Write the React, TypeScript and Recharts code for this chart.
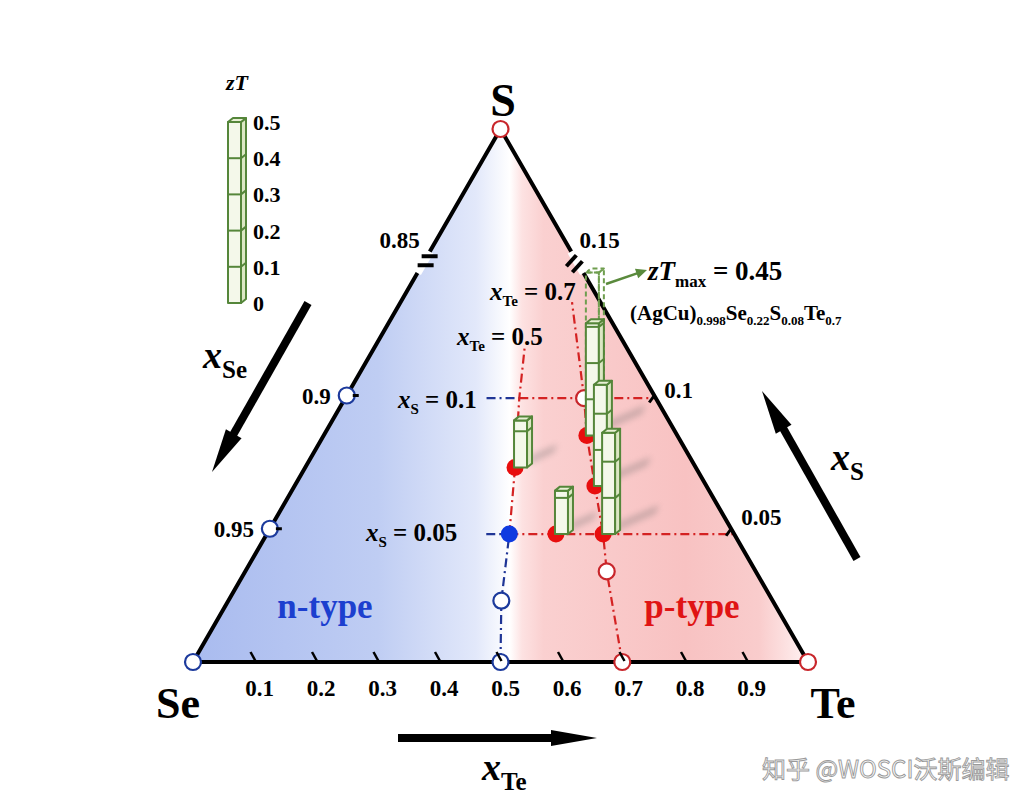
import React from 'react';
import { ScatterChart, Scatter, XAxis, YAxis, ReferenceArea } from 'recharts';

type Comp = [number, number]; // [xTe, xS]

// the S apex stands for xS = 0.2 (axis is broken above 0.15)
const XS_TOP = 0.2;

const SE_CORNER: Comp = [0, 0];
const TE_CORNER: Comp = [1, 0];
const S_CORNER: Comp = [0, XS_TOP];

const TE_TICKS = [0.1, 0.2, 0.3, 0.4, 0.5, 0.6, 0.7, 0.8, 0.9];
const EDGE_TICKS = [0.15, 0.1, 0.05]; // xS where the side labels sit
const SE_LABELS = ['0.85', '0.9', '0.95']; // xSe on the left edge
const S_LABELS = ['0.15', '0.1', '0.05']; // xS on the right edge
const ZT_LEGEND = [0.5, 0.4, 0.3, 0.2, 0.1, 0];

// open / filled composition points
const N_OPEN: Comp[] = [[0, 0], [0, 0.1], [0, 0.05], [0.5, 0], [0.49, 0.023]];
const N_FILLED: Comp[] = [[0.494, 0.048]];
const P_OPEN: Comp[] = [[1, 0], [0, XS_TOP], [0.698, 0], [0.684, 0.034], [0.693, 0.099]];
const P_FILLED: Comp[] = [[0.498, 0.073], [0.589, 0.048], [0.681, 0.085], [0.681, 0.066], [0.685, 0.048]];

// zT measured on the filled p-type points (same order)
const ZT_VALUES = [0.13, 0.12, 0.31, 0.28, 0.28];
const ZT_MAX_COMP: Comp = [0.681, 0.085];
const ZT_MAX = 0.45;

// guide lines (dash-dot)
const XS05_N: Comp[] = [[0.447, 0.048], [0.494, 0.048]];
const XS05_P: Comp[] = [[0.494, 0.048], [0.952, 0.048]];
const XS10_N: Comp[] = [[0.41, 0.099], [0.505, 0.099]];
const XS10_P: Comp[] = [[0.505, 0.099], [0.901, 0.099]];
const XTE05_N: Comp[] = [[0.5, 0], [0.49, 0.023], [0.494, 0.048]];
const XTE05_P: Comp[] = [[0.494, 0.048], [0.498, 0.073], [0.505, 0.099], [0.527, 0.119]];
const XTE07_P: Comp[] = [[0.698, 0], [0.684, 0.034], [0.685, 0.048], [0.681, 0.066], [0.681, 0.085], [0.693, 0.099], [0.742, 0.135]];

const W = 1005;
const H = 794;
const MARGIN = { left: 185, right: 205, top: 121, bottom: 140 };
const PLOT_W = W - MARGIN.left - MARGIN.right;
const PLOT_H = H - MARGIN.top - MARGIN.bottom;
const ZT_PX = 362; // px per unit of zT

const SERIF = '"Liberation Serif", "Times New Roman", serif';
const RED = '#d42222';
const BLUE = '#1f3596';
const GREEN = '#55863a';
const DASHDOT = '9 4 2 4';

function toXY([te, s]: Comp, extra: any = {}) {
  const f = s / XS_TOP;
  const r = s >= XS_TOP ? 0 : te / (1 - s);
  return { x: f / 2 + r * (1 - f), y: f, ...extra };
}

// page-pixel position, only used for the annotation layer
function px(c: Comp): [number, number] {
  const p = toXY(c);
  return [8 + MARGIN.left + p.x * PLOT_W, 8 + MARGIN.top + (1 - p.y) * PLOT_H];
}

const pts = (list: Comp[]) => list.map(c => toXY(c));

const EDGE = pts([SE_CORNER, TE_CORNER, S_CORNER, SE_CORNER]);
const BAR_DATA = P_FILLED.map((c, i) => toXY(c, { zT: ZT_VALUES[i], s: c[1] })).sort((a, b) => b.s - a.s);

const Empty = () => <g />;

const ring = (stroke: string) => (p: any) => (
  <circle cx={p.cx} cy={p.cy} r={8} fill="#fff" stroke={stroke} strokeWidth={2.2} />
);
const disc = (fill: string) => (p: any) => <circle cx={p.cx} cy={p.cy} r={8.5} fill={fill} />;

function Box({ x0, yb, h, dashed }: { x0: number; yb: number; h: number; dashed?: boolean }) {
  const w = 13, dx = 5, dy = 4;
  const yt = yb - h;
  const divs: number[] = [];
  if (!dashed) for (let k = 1; k * 0.1 * ZT_PX < h - 3; k++) divs.push(yb - k * 0.1 * ZT_PX);
  return (
    <g stroke={dashed ? '#6f9e4f' : GREEN} strokeWidth={2} strokeDasharray={dashed ? '5 3' : undefined} strokeLinejoin="round">
      <rect x={x0} y={yt} width={w} height={h} fill={dashed ? 'none' : '#f4f8ea'} />
      <polygon points={`${x0 + w},${yt} ${x0 + w + dx},${yt - dy} ${x0 + w + dx},${yb - dy} ${x0 + w},${yb}`} fill={dashed ? 'none' : '#dce7c4'} />
      <polygon points={`${x0},${yt} ${x0 + dx},${yt - dy} ${x0 + w + dx},${yt - dy} ${x0 + w},${yt}`} fill={dashed ? 'none' : '#e9f0d5'} />
      {divs.map(y => <line key={y} x1={x0} y1={y} x2={x0 + w} y2={y} />)}
      {divs.map(y => <line key={'s' + y} x1={x0 + w} y1={y} x2={x0 + w + dx} y2={y - dy} />)}
    </g>
  );
}

const BarShape = (p: any) => <Box x0={p.cx - 1} yb={p.cy} h={p.payload.zT * ZT_PX} />;
const MaxBarShape = (p: any) => <Box x0={p.cx - 1} yb={p.cy} h={p.payload.zT * ZT_PX} dashed />;
const ShadowShape = (p: any) => {
  const x = p.cx + 13, y = p.cy;
  const len = 18 + p.payload.zT * 90;
  return (
    <polygon
      points={`${x},${y - 3} ${x + 3},${y - 12} ${x + len},${y - 10 - len * 0.45} ${x + len - 4},${y - 3 - len * 0.4}`}
      fill="#666" opacity={0.32} filter="url(#blur)"
    />
  );
};

const TriangleFill = (p: any) => {
  const { x, y, width, height } = p;
  return (
    <g>
      <defs>
        <linearGradient id="bg" x1="0" y1="0" x2="1" y2="0">
          <stop offset="0" stopColor="#a9bbef" />
          <stop offset="0.3" stopColor="#bfcdf3" />
          <stop offset="0.46" stopColor="#e2e8fa" />
          <stop offset="0.515" stopColor="#ffffff" />
          <stop offset="0.535" stopColor="#fde2e2" />
          <stop offset="0.57" stopColor="#fad0d0" />
          <stop offset="0.8" stopColor="#f8c2c2" />
          <stop offset="0.92" stopColor="#f9cccc" />
          <stop offset="1" stopColor="#fff2f2" />
        </linearGradient>
        <filter id="blur" x="-50%" y="-50%" width="200%" height="200%">
          <feGaussianBlur stdDeviation="3" />
        </filter>
      </defs>
      <polygon points={`${x},${y + height} ${x + width},${y + height} ${x + width / 2},${y}`} fill="url(#bg)" />
    </g>
  );
};

function Arrow({ from, to, w, head, hw, color = '#000' }: { from: [number, number]; to: [number, number]; w: number; head: number; hw: number; color?: string }) {
  const [x1, y1] = from, [x2, y2] = to;
  const L = Math.hypot(x2 - x1, y2 - y1);
  const ux = (x2 - x1) / L, uy = (y2 - y1) / L;
  const bx = x2 - ux * head, by = y2 - uy * head;
  return (
    <g>
      <line x1={x1} y1={y1} x2={bx + ux * 2} y2={by + uy * 2} stroke={color} strokeWidth={w} />
      <polygon points={`${x2},${y2} ${bx - uy * hw},${by + ux * hw} ${bx + uy * hw},${by - ux * hw}`} fill={color} />
    </g>
  );
}

function SubLabel({ x, y, sub, rest, size = 25, subSize = 15, anchor = 'start' }: any) {
  return (
    <text x={x} y={y} fontFamily={SERIF} fontWeight="bold" fontSize={size} textAnchor={anchor}>
      <tspan fontStyle="italic">x</tspan>
      <tspan fontSize={subSize} dy={size * 0.25}>{sub}</tspan>
      {rest ? <tspan dy={-size * 0.25}>{rest}</tspan> : null}
    </text>
  );
}

function Overlay() {
  const [lx, ly] = px([0, 0.15]);
  const [rx, ry] = px([0.85, 0.15]);
  const leftA = px([0, 0.146]), leftB = px([0, 0.154]);
  const rightA = px([0.854, 0.146]), rightB = px([0.846, 0.154]);
  return (
    <svg width={W} height={H} style={{ position: 'absolute', left: 0, top: 0, pointerEvents: 'none' }}>
      <g transform="translate(-8,-8)">
        {/* axis breaks at 0.15 */}
        <line x1={leftA[0]} y1={leftA[1]} x2={leftB[0]} y2={leftB[1]} stroke="#fff" strokeWidth={8} />
        <line x1={lx - 6} y1={ly + 3} x2={lx + 10} y2={ly + 3} stroke="#000" strokeWidth={4} />
        <line x1={lx - 2} y1={ly - 6} x2={lx + 14} y2={ly - 6} stroke="#000" strokeWidth={4} />
        <line x1={rightA[0]} y1={rightA[1]} x2={rightB[0]} y2={rightB[1]} stroke="#fff" strokeWidth={8} />
        <line x1={rx - 11} y1={ry + 4} x2={rx - 1} y2={ry - 7} stroke="#000" strokeWidth={4} />
        <line x1={rx - 5} y1={ry + 10} x2={rx + 5} y2={ry - 1} stroke="#000" strokeWidth={4} />

        {/* bottom ticks and labels */}
        {TE_TICKS.map(t => {
          const [x, y] = px([t, 0]);
          return (
            <g key={t}>
              <line x1={x - 4} y1={y - 10} x2={x + 1} y2={y - 1} stroke="#000" strokeWidth={2.5} />
              <text x={x + 5} y={y + 34} textAnchor="middle" fontFamily={SERIF} fontWeight="bold" fontSize={23}>{t}</text>
            </g>
          );
        })}

        {/* left edge (xSe) */}
        {EDGE_TICKS.map((s, i) => {
          const [x, y] = px([0, s]);
          return (
            <g key={'l' + s}>
              {i > 0 ? <line x1={x + 6} y1={y} x2={x + 12} y2={y} stroke="#000" strokeWidth={3} /> : null}
              <text x={i === 0 ? x - 4 : x - 16} y={i === 0 ? y - 14 : y + 8} textAnchor="end" fontFamily={SERIF} fontWeight="bold" fontSize={23}>{SE_LABELS[i]}</text>
            </g>
          );
        })}
        {/* right edge (xS) */}
        {EDGE_TICKS.map((s, i) => {
          const [x, y] = px([1 - s, s]);
          return (
            <g key={'r' + s}>
              {i > 0 ? <line x1={x} y1={y} x2={x - 5} y2={y + 7} stroke="#000" strokeWidth={3} /> : null}
              <text x={i === 0 ? x + 2 : x + 10} y={i === 0 ? y - 14 : y + 2 - (i === 2 ? 6 : 0)} fontFamily={SERIF} fontWeight="bold" fontSize={23}>{S_LABELS[i]}</text>
            </g>
          );
        })}

        {/* corner names */}
        <text x={503} y={116} textAnchor="middle" fontFamily={SERIF} fontWeight="bold" fontSize={46}>S</text>
        <text x={178} y={718} textAnchor="middle" fontFamily={SERIF} fontWeight="bold" fontSize={44}>Se</text>
        <text x={833} y={718} textAnchor="middle" fontFamily={SERIF} fontWeight="bold" fontSize={44}>Te</text>

        {/* guide line labels */}
        <SubLabel x={490} y={300} sub="Te" rest=" = 0.7" />
        <SubLabel x={457} y={345} sub="Te" rest=" = 0.5" />
        <SubLabel x={398} y={408} sub="S" rest=" = 0.1" />
        <SubLabel x={366} y={541} sub="S" rest=" = 0.05" />

        {/* axis direction arrows */}
        <Arrow from={[308, 303]} to={[212, 472]} w={8} head={44} hw={9} />
        <SubLabel x={203} y={368} sub="Se" size={38} subSize={25} />
        <Arrow from={[857, 559]} to={[762, 391]} w={8} head={44} hw={9} />
        <SubLabel x={831} y={470} sub="S" size={38} subSize={25} />
        <Arrow from={[398, 738]} to={[597, 738]} w={8} head={46} hw={8} />
        <SubLabel x={482} y={780} sub="Te" size={38} subSize={25} />

        {/* type labels */}
        <text x={325} y={618} textAnchor="middle" fontFamily={SERIF} fontWeight="bold" fontSize={35} fill="#1c3fcf">n-type</text>
        <text x={692} y={618} textAnchor="middle" fontFamily={SERIF} fontWeight="bold" fontSize={35} fill="#e01414">p-type</text>

        {/* zT legend */}
        <text x={226} y={90} fontFamily={SERIF} fontWeight="bold" fontStyle="italic" fontSize={22}>zT</text>
        <Box x0={228} yb={303} h={0.5 * ZT_PX} />
        {ZT_LEGEND.map(v => (
          <text key={v} x={253} y={303 - v * ZT_PX + 8} fontFamily={SERIF} fontWeight="bold" fontSize={22}>{v}</text>
        ))}

        {/* zT max callout */}
        <Arrow from={[606, 284]} to={[647, 270]} w={2.5} head={11} hw={5} color="#5a8a3c" />
        <text x={648} y={280} fontFamily={SERIF} fontWeight="bold" fontSize={27}>
          <tspan fontStyle="italic">zT</tspan>
          <tspan fontSize={17} dy={7}>max</tspan>
          <tspan dy={-7}> = {ZT_MAX}</tspan>
        </text>
        <text x={630} y={320} fontFamily={SERIF} fontWeight="bold" fontSize={21}>
          (AgCu)<tspan fontSize={13} dy={5}>0.998</tspan>
          <tspan dy={-5}>Se</tspan><tspan fontSize={13} dy={5}>0.22</tspan>
          <tspan dy={-5}>S</tspan><tspan fontSize={13} dy={5}>0.08</tspan>
          <tspan dy={-5}>Te</tspan><tspan fontSize={13} dy={5}>0.7</tspan>
        </text>

        {/* watermark */}
        <text x={762} y={778} fontFamily='"Noto Sans CJK SC", "Noto Sans", sans-serif' fontSize={24} fill="#fafafa" stroke="#9a9a9a" strokeWidth={0.9}>
          知乎 @WOSCI沃斯编辑
        </text>
      </g>
    </svg>
  );
}

export default function App() {
  const lineStyle = (stroke: string) => ({ stroke, strokeWidth: 2.2, strokeDasharray: DASHDOT });
  return (
    <div style={{ position: 'relative', width: W, height: H }}>
      <ScatterChart width={W} height={H} margin={MARGIN}>
        <XAxis type="number" dataKey="x" domain={[0, 1]} hide />
        <YAxis type="number" dataKey="y" domain={[0, 1]} hide />
        <ReferenceArea x1={0} x2={1} y1={0} y2={1} shape={TriangleFill} ifOverflow="visible" />

        <Scatter data={pts(XS05_N)} line={lineStyle(BLUE)} shape={Empty} isAnimationActive={false} />
        <Scatter data={pts(XS05_P)} line={lineStyle(RED)} shape={Empty} isAnimationActive={false} />
        <Scatter data={pts(XS10_N)} line={lineStyle(BLUE)} shape={Empty} isAnimationActive={false} />
        <Scatter data={pts(XS10_P)} line={lineStyle(RED)} shape={Empty} isAnimationActive={false} />
        <Scatter data={pts(XTE05_N)} line={lineStyle(BLUE)} shape={Empty} isAnimationActive={false} />
        <Scatter data={pts(XTE05_P)} line={lineStyle(RED)} shape={Empty} isAnimationActive={false} />
        <Scatter data={pts(XTE07_P)} line={lineStyle(RED)} shape={Empty} isAnimationActive={false} />

        <Scatter data={EDGE} line={{ stroke: '#000', strokeWidth: 4 }} shape={Empty} isAnimationActive={false} />

        <Scatter data={pts(N_OPEN)} shape={ring('#1c3a9c')} isAnimationActive={false} />
        <Scatter data={pts(N_FILLED)} shape={disc('#0f3ae0')} isAnimationActive={false} />
        <Scatter data={pts(P_OPEN)} shape={ring('#c8262b')} isAnimationActive={false} />
        <Scatter data={pts(P_FILLED)} shape={disc('#e80e0e')} isAnimationActive={false} />

        <Scatter data={BAR_DATA} shape={ShadowShape} isAnimationActive={false} />
        <Scatter data={[toXY(ZT_MAX_COMP, { zT: ZT_MAX })]} shape={MaxBarShape} isAnimationActive={false} />
        <Scatter data={BAR_DATA} shape={BarShape} isAnimationActive={false} />
      </ScatterChart>
      <Overlay />
    </div>
  );
}
